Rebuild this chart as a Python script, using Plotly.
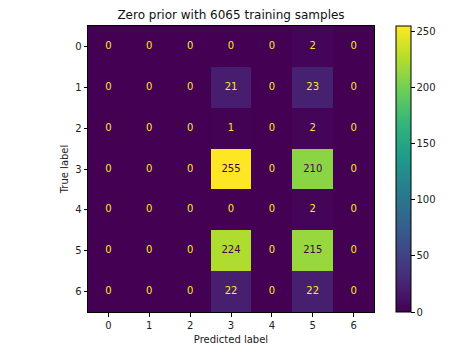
import plotly.graph_objects as go

labels = [0, 1, 2, 3, 4, 5, 6]
matrix = [
    [0, 0, 0, 0, 0, 2, 0],
    [0, 0, 0, 21, 0, 23, 0],
    [0, 0, 0, 1, 0, 2, 0],
    [0, 0, 0, 255, 0, 210, 0],
    [0, 0, 0, 0, 0, 2, 0],
    [0, 0, 0, 224, 0, 215, 0],
    [0, 0, 0, 22, 0, 22, 0],
]
title = "Zero prior with 6065 training samples"

vmax = max(max(r) for r in matrix)
vmin = min(min(r) for r in matrix)
thresh = (vmax + vmin) / 2.0

fig = go.Figure()
fig.add_trace(go.Heatmap(
    z=matrix, x=labels, y=labels, colorscale="Viridis", zmin=vmin, zmax=vmax,
    xgap=0, ygap=0, hoverinfo="skip",
    colorbar=dict(
        x=(396 - 88) / 286, xanchor="left", y=0.5, yanchor="middle",
        len=1, lenmode="fraction", thickness=15, thicknessmode="pixels",
        outlinecolor="black", outlinewidth=1,
        tickvals=[0, 50, 100, 150, 200, 250], ticks="outside", ticklen=3.5,
        tickcolor="black", tickfont=dict(family="DejaVu Sans", size=10, color="#222"),
        xpad=0, ypad=0,
    ),
))

xs, ys, texts, colors = [], [], [], []
for i, row in enumerate(matrix):
    for j, v in enumerate(row):
        xs.append(labels[j]); ys.append(labels[i]); texts.append(str(v))
        colors.append("#440154" if v > thresh else "#fde725")
fig.add_trace(go.Scatter(
    x=xs, y=ys, text=texts, mode="text", hoverinfo="skip",
    textfont=dict(family="DejaVu Sans", size=10, color=colors), showlegend=False,
))

axis_common = dict(
    showline=True, linecolor="black", linewidth=1, mirror=True, automargin=False,
    ticks="outside", ticklen=3.5, tickcolor="black", showgrid=False, zeroline=False,
    tickfont=dict(family="DejaVu Sans", size=10, color="#222"),
    tickvals=labels, ticktext=[str(l) for l in labels],
)
fig.update_layout(
    width=474, height=355, margin=dict(l=88, r=100, t=26, b=43),
    paper_bgcolor="white", plot_bgcolor="white",
    title=dict(text=title, x=0.5 * (88 + 374) / 474, xanchor="center", y=1 - 15 / 355, yanchor="middle",
               font=dict(family="DejaVu Sans", size=12, color="#111")),
    xaxis=dict(axis_common, range=[-0.5, 6.5],
               title=dict(text="Predicted label", font=dict(family="DejaVu Sans", size=10, color="#222"), standoff=6)),
    yaxis=dict(axis_common, range=[6.5, -0.5],
               title=dict(text="True label", font=dict(family="DejaVu Sans", size=10, color="#222"), standoff=4)),
    showlegend=False,
)
fig.write_html("out.html", config={"displayModeBar": False, "staticPlot": True},
               post_script="document.body.style.margin='0px';document.body.style.overflow='hidden';")
